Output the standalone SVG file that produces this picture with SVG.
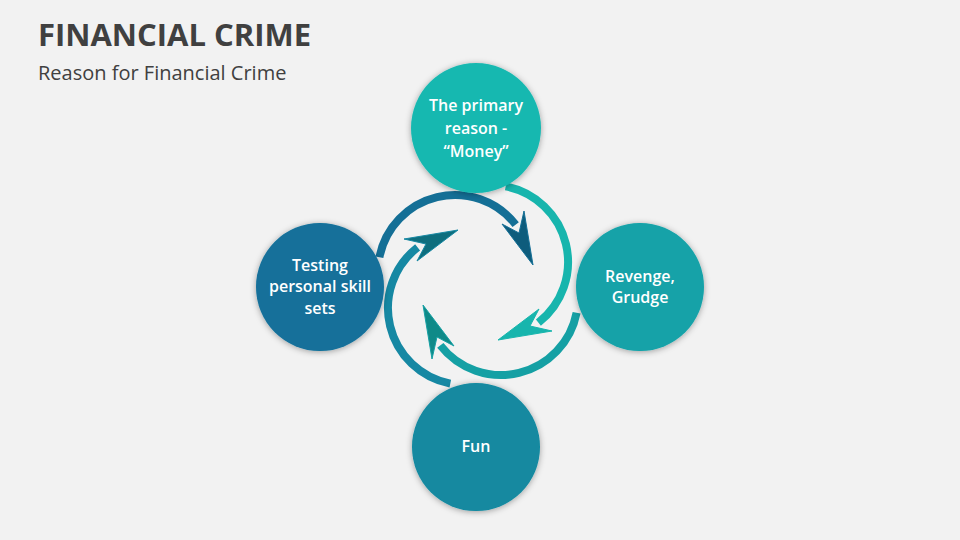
<svg xmlns="http://www.w3.org/2000/svg" width="960" height="540" viewBox="0 0 960 540">
<defs>
<filter id="sh" x="-20%" y="-20%" width="140%" height="140%"><feDropShadow dx="0" dy="1" stdDeviation="3" flood-color="#000" flood-opacity="0.35"/></filter>
<g id="arrow">
<path d="M379.4,257.3 A77,77 0 0 1 515.7,224.6" fill="none" stroke-width="8"/>
<path d="M533,265 L502,224 L519,233 L524,211 Z"/>
</g>
</defs>
<style>
.t{font-family:"Open Sans","Liberation Sans",sans-serif;}
.n{font-family:"Open Sans","Liberation Sans",sans-serif;font-weight:600;font-size:16px;fill:#fff;text-anchor:middle;}
</style>
<rect width="960" height="540" fill="#f2f2f2"/>
<text class="t" x="38" y="46" font-size="31" font-weight="700" fill="#404040">FINANCIAL CRIME</text>
<text class="t" x="38" y="80" font-size="20" fill="#404040">Reason for Financial Crime</text>
<g id="connectors">
<use href="#arrow" stroke="#146f96" fill="#0e5c7c"/>
<use href="#arrow" transform="rotate(90 478 285)" stroke="#17b5ad" fill="#17b5ad"/>
<use href="#arrow" transform="rotate(180 478 285)" stroke="#15a0a4" fill="#0f8a88"/>
<use href="#arrow" transform="rotate(270 478 285)" stroke="#1688a3" fill="#0e6e7e"/>
</g>
<g id="top"><circle cx="476" cy="128" r="65" fill="#15b8b0" filter="url(#sh)"/>
<text class="n"><tspan x="476" y="111">The primary</tspan><tspan x="476" y="134">reason -</tspan><tspan x="476" y="157">“Money”</tspan></text></g>
<g id="right"><circle cx="640" cy="287" r="64" fill="#13a2a8" filter="url(#sh)"/>
<text class="n"><tspan x="640" y="282">Revenge,</tspan><tspan x="640" y="303">Grudge</tspan></text></g>
<g id="bottom"><circle cx="476" cy="447" r="64" fill="#1289a0" filter="url(#sh)"/>
<text class="n" x="476" y="452">Fun</text></g>
<g id="left"><circle cx="320" cy="287" r="64" fill="#13709a" filter="url(#sh)"/>
<text class="n"><tspan x="320" y="271">Testing</tspan><tspan x="320" y="292">personal skill</tspan><tspan x="320" y="314">sets</tspan></text></g>
</svg>
